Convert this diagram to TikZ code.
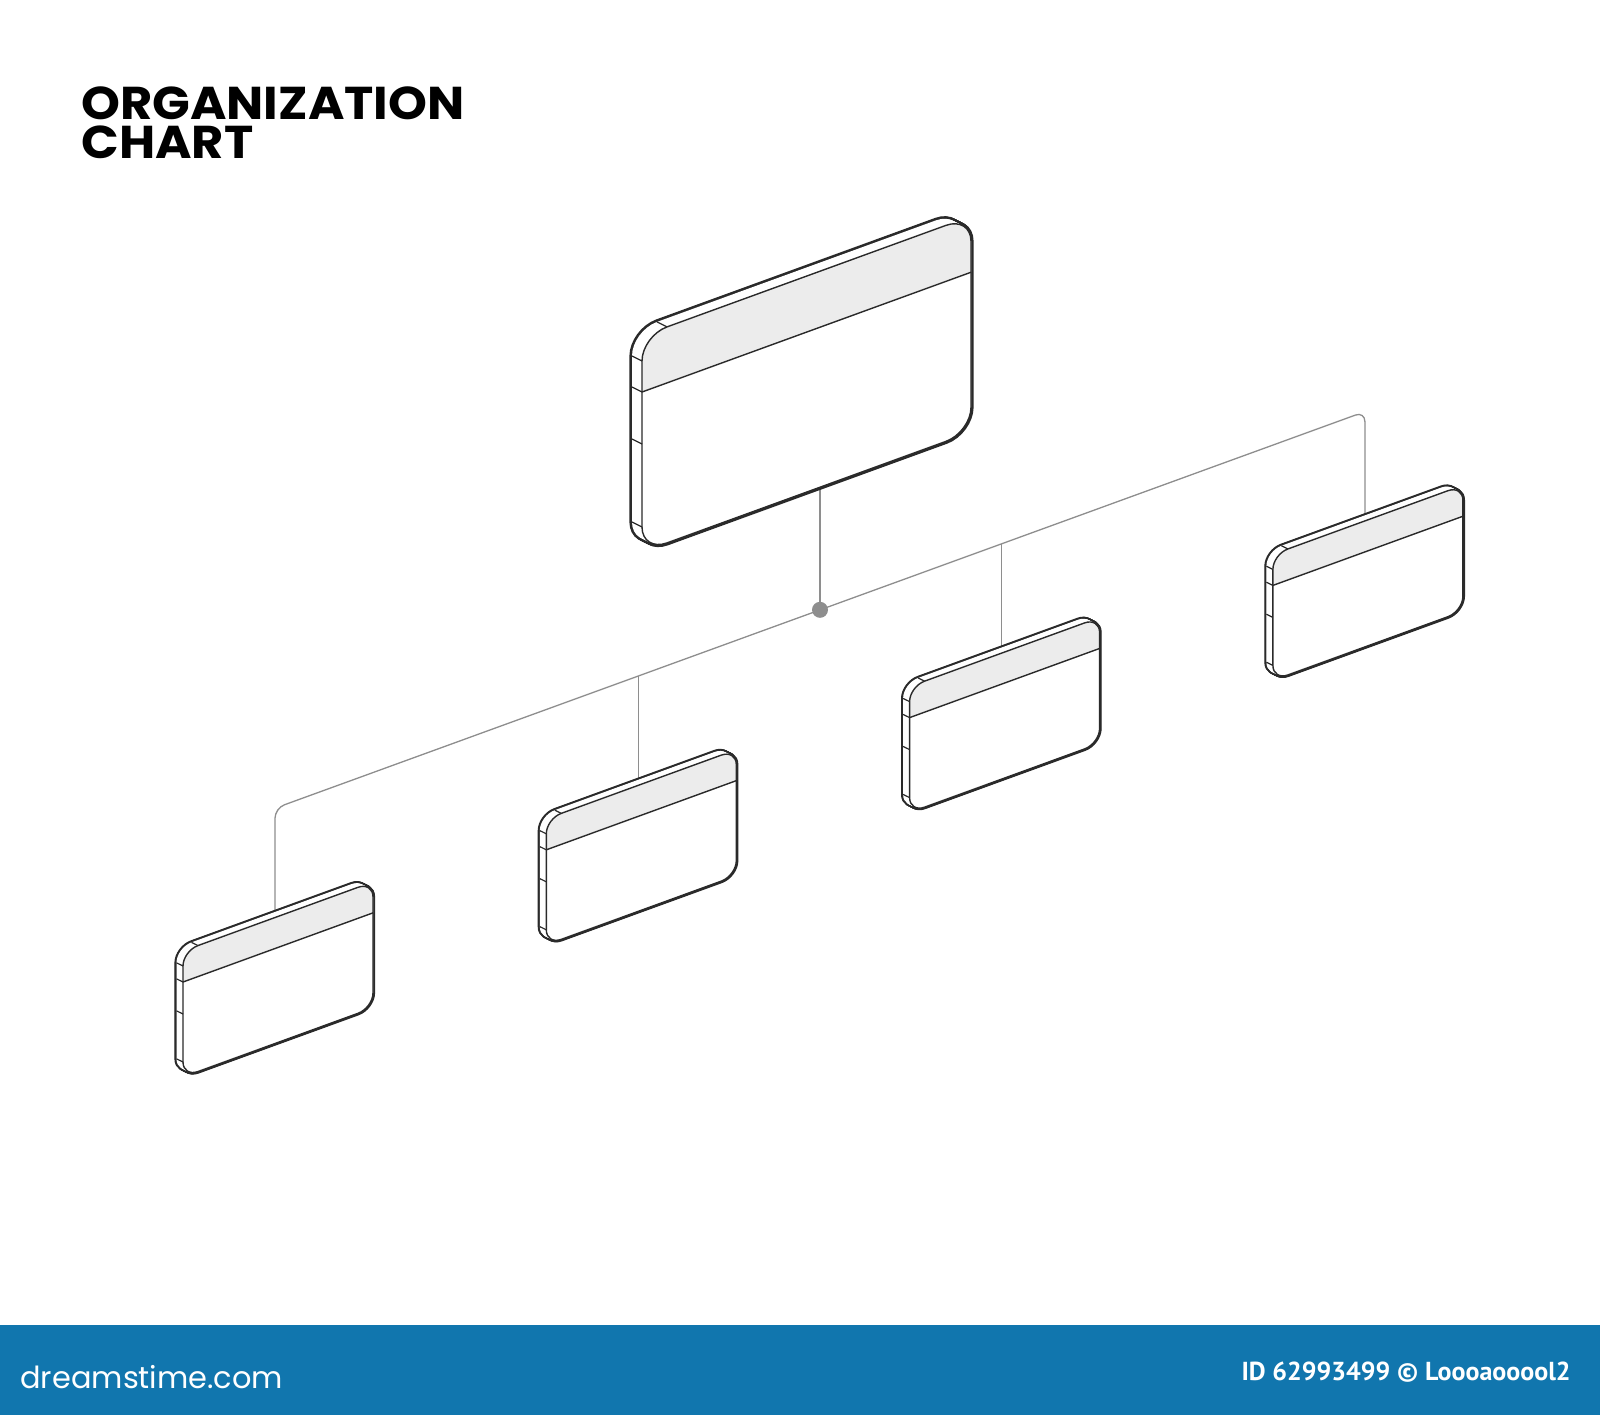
\documentclass[tikz,border=0pt]{standalone}
\usepackage{fontspec}
\usepackage{graphicx}
\setmainfont{Liberation Sans}
\newfontfamily\titlefont{Poppins}
\newfontfamily\logofont{Poppins}
\newfontfamily\idfont{PT Sans}
\definecolor{slabink}{HTML}{2A2A2A}
\definecolor{headgray}{HTML}{ECECEC}
\definecolor{connink}{HTML}{8E8E8E}
\definecolor{bannerblue}{HTML}{1176AE}
\tikzset{
  conn/.style={draw=connink, line width=0.65pt},
  innerline/.style={draw=slabink, line width=0.7pt, line join=round},
  tickline/.style={draw=slabink, line width=0.6pt},
  titletext/.style={anchor=north west, inner sep=0, align=left, font=\titlefont\bfseries\fontsize{23}{19.7}\selectfont},
}
% #1 x0, #2 y0 (front face top-left sharp corner, px), #3 w, #4 h, #5 r, #6 header, #7 dx, #8 dy, #9 silhouette width
\newcommand{\orgslab}[9]{%
  \foreach \k in {0,...,12}{%
    \begin{scope}[shift={({#1+\k/12*(#7)},{#2+\k/12*(#8)})}, y=0.5pt, cm={1,0.364,0,1,(0,0)}]
      \draw[draw=slabink, line width=#9pt, line join=round] (0,-#5) -- (0,{-#4+#5}) arc[start angle=180,end angle=270,radius=#5] -- ({#3-#5},-#4) arc[start angle=270,end angle=360,radius=#5] -- (#3,-#5) arc[start angle=0,end angle=90,radius=#5] -- (#5,0) arc[start angle=90,end angle=180,radius=#5] -- cycle;
    \end{scope}}%
  \foreach \k in {0,...,12}{%
    \begin{scope}[shift={({#1+\k/12*(#7)},{#2+\k/12*(#8)})}, y=0.5pt, cm={1,0.364,0,1,(0,0)}]
      \fill[white] (0,-#5) -- (0,{-#4+#5}) arc[start angle=180,end angle=270,radius=#5] -- ({#3-#5},-#4) arc[start angle=270,end angle=360,radius=#5] -- (#3,-#5) arc[start angle=0,end angle=90,radius=#5] -- (#5,0) arc[start angle=90,end angle=180,radius=#5] -- cycle;
    \end{scope}}%
  \begin{scope}[shift={(#1,#2)}, y=0.5pt, cm={1,0.364,0,1,(0,0)}]
    \fill[white] (0,-#5) -- (0,{-#4+#5}) arc[start angle=180,end angle=270,radius=#5] -- ({#3-#5},-#4) arc[start angle=270,end angle=360,radius=#5] -- (#3,-#5) arc[start angle=0,end angle=90,radius=#5] -- (#5,0) arc[start angle=90,end angle=180,radius=#5] -- cycle;
    \fill[headgray] (0,-#6) -- (0,-#5) arc[start angle=180,end angle=90,radius=#5] -- ({#3-#5},0) arc[start angle=90,end angle=0,radius=#5] -- (#3,-#6) -- cycle;
    \draw[innerline] (0,-#6) -- (#3,-#6);
    \draw[innerline] (0,-#5) -- (0,{-#4+#5}) arc[start angle=180,end angle=270,radius=#5] -- ({#3-#5},-#4) arc[start angle=270,end angle=360,radius=#5] -- (#3,-#5) arc[start angle=0,end angle=90,radius=#5] -- (#5,0) arc[start angle=90,end angle=180,radius=#5] -- cycle;
  \end{scope}%
  \draw[tickline] (#1,{#2+#5}) -- ++(#7,#8);
  \draw[tickline] (#1,{#2+#6}) -- ++(#7,#8);
  \draw[tickline] (#1,{#2+#4/2}) -- ++(#7,#8);
  \draw[tickline] (#1,{#2+#4-#5}) -- ++(#7,#8);
  \draw[tickline] ({#1+#5},{#2-0.364*#5}) -- ++(#7,#8);
}
\begin{document}
\begin{tikzpicture}[x=0.5pt, y=-0.5pt]
\useasboundingbox (0,0) rectangle (1600,1415);
\fill[white] (0,0) rectangle (1600,1415);

% title
\node[titletext] (title) at (81,86) {\scalebox{1.076}[1]{ORGANIZATION}\\\scalebox{1.076}[1]{CHART}};

% connection points
\coordinate (topbox-bot) at (820,487.2);
\coordinate (boxa-top) at (275,912);
\coordinate (boxb-top) at (638.3,779.3);
\coordinate (boxc-top) at (1001.6,646.6);
\coordinate (boxd-top) at (1364.9,513.9);
\coordinate (ja) at (275,808.2);
\coordinate (jb) at (638.3,676.0);
\coordinate (hub) at (820,609.8);
\coordinate (jc) at (1001.6,543.7);
\coordinate (jd) at (1364.9,411.6);

% connectors
\draw[conn, rounded corners=5pt] (boxa-top) -- (ja) -- (jd) -- (boxd-top);
\draw[conn] (jb) -- (boxb-top);
\draw[conn] (jc) -- (boxc-top);
\draw[conn] (topbox-bot) -- (hub);

% boxes
\orgslab{642}{336}{329}{216}{25}{56}{-10}{-5}{2.6}
\orgslab{183}{951}{190}{126}{15}{31}{-6.5}{-3.2}{2.1}
\orgslab{546.3}{818.8}{190}{126}{15}{31}{-6.5}{-3.2}{2.1}
\orgslab{909.6}{686.6}{190}{126}{15}{31}{-6.5}{-3.2}{2.1}
\orgslab{1272.9}{554.4}{190}{126}{15}{31}{-6.5}{-3.2}{2.1}

\fill[connink] (hub) circle[radius=8];

% banner
\fill[bannerblue] (0,1325) rectangle (1600,1415);
\node[anchor=base west, inner sep=0, text=white, font=\logofont\fontsize{15.2}{15.2}\selectfont] (logo) at (20,1388) {dreamstime.com};
\node[anchor=base east, inner sep=0, text=white, font=\idfont\bfseries\fontsize{13}{13}\selectfont] (imgid) at (1571,1380) {ID 62993499 © Loooaooool2};
\end{tikzpicture}
\end{document}
